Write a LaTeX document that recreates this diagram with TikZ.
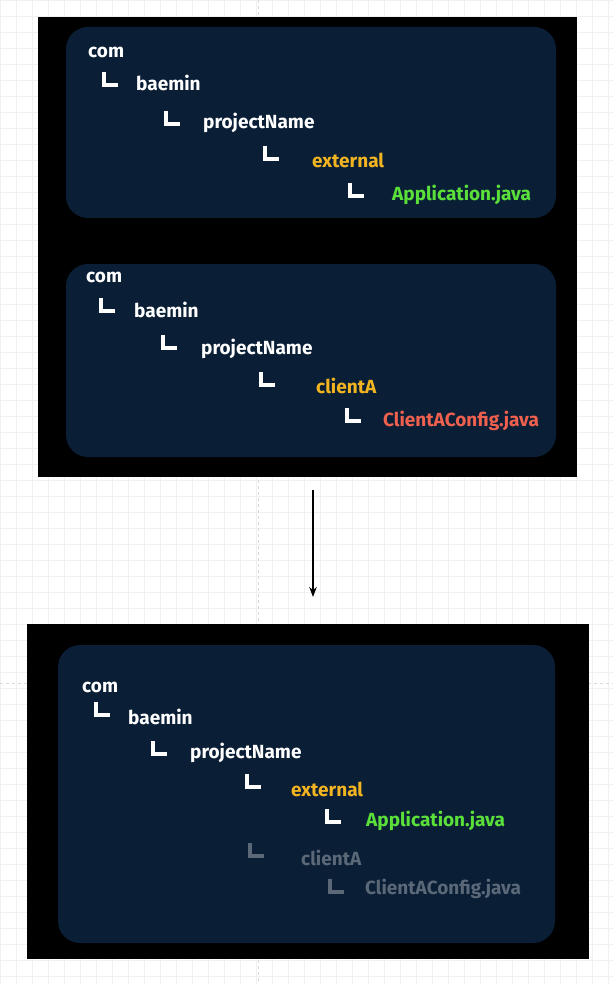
\documentclass[tikz,border=0pt]{standalone}
\usepackage{fontspec}
\setmainfont{Fira Sans}
\usetikzlibrary{arrows.meta}
\definecolor{panel}{HTML}{0A1F36}
\definecolor{pkgyellow}{HTML}{F2B420}
\definecolor{javagreen}{HTML}{5BE03A}
\definecolor{javared}{HTML}{F0604E}
\definecolor{faded}{HTML}{5A6878}
\tikzset{
  box/.style={fill=black, draw=none},
  panelbox/.style={fill=panel, rounded corners=22pt, draw=none},
  pkg/.style={anchor=west, inner sep=0pt, font=\fontsize{19}{21}\selectfont\bfseries, text=white},
  elbow/.style={draw=white, line width=4pt}
}
\newcommand{\elbow}[3][white]{\draw[elbow, draw=#1] (#2,#3) -- (#2,#3+13) -- (#2+14,#3+13);}
\begin{document}
\begin{tikzpicture}[x=1pt, y=-1pt]
\useasboundingbox (0,0) rectangle (613,984);
% grid
\foreach \g in {0,16,...,613} \draw[gray!12, line width=0.4pt] (\g,0) -- (\g,984);
\foreach \g in {0,16,...,984} \draw[gray!12, line width=0.4pt] (0,\g) -- (613,\g);
\draw[gray!30, dashed, line width=0.5pt] (258,0) -- (258,984);
\draw[gray!30, dashed, line width=0.5pt] (0,683) -- (613,683);

% top
\fill[box] (38,17) rectangle (577,477);
\fill[panelbox] (66,27) rectangle (556,218);
\fill[panelbox] (66,264) rectangle (556,457);
\node[pkg] (c1) at (88,52) {com};
\elbow{104}{72}\node[pkg] (b1) at (136,83) {baemin};
\elbow{166}{111}\node[pkg] (p1) at (203,123) {projectName};
\elbow{265}{146}\node[pkg, text=pkgyellow] (e1) at (312,160) {external};
\elbow{350}{183}\node[pkg, text=javagreen] (a1) at (392,195) {Application.java};

\node[pkg] (c2) at (86,277) {com};
\elbow{101}{298}\node[pkg] (b2) at (134,310) {baemin};
\elbow{163}{335}\node[pkg] (p2) at (201,349) {projectName};
\elbow{261}{372}\node[pkg, text=pkgyellow] (k2) at (316,386) {clientA};
\elbow{347}{408}\node[pkg, text=javared] (f2) at (383,421) {ClientAConfig.java};

% arrow
\coordinate (from) at (313,490);
\coordinate (to) at (313,597);
\draw[-{Stealth[length=10pt]}, line width=1.6pt] (from) -- (to);

% bottom
\fill[box] (27,624) rectangle (589,959);
\fill[panelbox] (58,645) rectangle (555,943);
\node[pkg] (c3) at (82,687) {com};
\elbow{96}{702}\node[pkg] (b3) at (128,717) {baemin};
\elbow{153}{741}\node[pkg] (p3) at (190,753) {projectName};
\elbow{247}{774}\node[pkg, text=pkgyellow] (e3) at (291,789) {external};
\elbow{327}{809}\node[pkg, text=javagreen] (a3) at (366,821) {Application.java};
\elbow[faded]{250}{843}\node[pkg, text=faded] (k3) at (301,858) {clientA};
\elbow[faded]{330}{879}\node[pkg, text=faded] (f3) at (365,889) {ClientAConfig.java};
\end{tikzpicture}
\end{document}
